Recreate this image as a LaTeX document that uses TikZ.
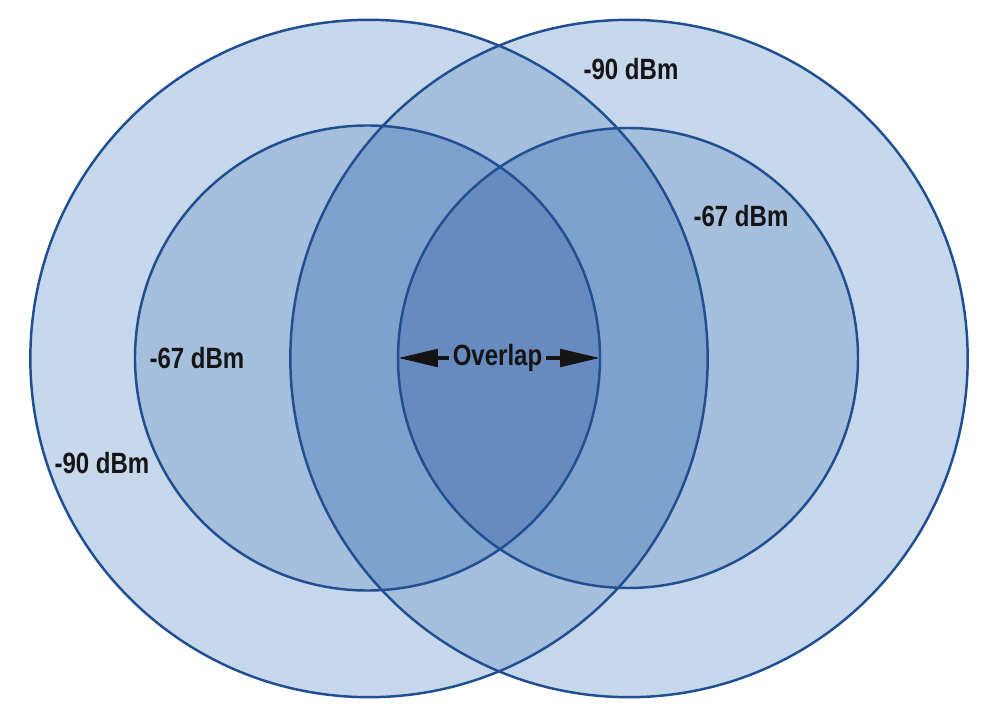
\documentclass[tikz,border=0pt]{standalone}
\usepackage{fontspec}
\usetikzlibrary{arrows.meta}
\newfontfamily\labfont[FakeStretch=0.82]{Liberation Sans}
\definecolor{cA}{HTML}{C7D8EC}
\definecolor{cB}{HTML}{A6BFDD}
\definecolor{cC}{HTML}{7FA2CC}
\definecolor{cD}{HTML}{678BBF}
\definecolor{cLine}{HTML}{1F4E92}
\definecolor{cText}{HTML}{141414}
\begin{document}
\begin{tikzpicture}[x=0.03cm,y=-0.03cm,
  ring/.style={draw=cLine, line width=2.1pt, circle, inner sep=0pt, outer sep=0pt},
  lab/.style={font=\labfont\bfseries\fontsize{25}{29}\selectfont, text=cText, inner sep=0pt},
  arr/.style={-{Triangle[length=1.2cm,width=0.52cm]}, line width=3.6pt, draw=cText}]
\useasboundingbox (0,0) rectangle (1000,711);
\fill[white] (0,0) rectangle (1000,711);
% centres
\coordinate (cOL) at (369,358.5);
\coordinate (cOR) at (629,358.5);
\coordinate (cIL) at (367.5,358);
\coordinate (cIR) at (628,358);
\def\ro{10.16cm}
\def\ril{6.975cm}
\def\rir{6.9cm}
% base fills
\fill[cA] (cOL) circle[radius=\ro];
\fill[cA] (cOR) circle[radius=\ro];
\fill[cB] (cIL) circle[radius=\ril];
\fill[cB] (cIR) circle[radius=\rir];
% outer overlap
\begin{scope}
  \clip (cOL) circle[radius=\ro];
  \fill[cB] (cOR) circle[radius=\ro];
  \fill[cC] (cIR) circle[radius=\rir];
\end{scope}
\begin{scope}
  \clip (cOR) circle[radius=\ro];
  \fill[cC] (cIL) circle[radius=\ril];
\end{scope}
\begin{scope}
  \clip (cIL) circle[radius=\ril];
  \fill[cD] (cIR) circle[radius=\rir];
\end{scope}
% outlines
\node[ring, minimum size=20.32cm] (oL) at (cOL) {};
\node[ring, minimum size=20.32cm] (oR) at (cOR) {};
\node[ring, minimum size=13.95cm] (iL) at (cIL) {};
\node[ring, minimum size=13.8cm] (iR) at (cIR) {};
% labels
\node[lab] (l67) at (197,358) {-67 dBm};
\node[lab] (l90) at (102,463) {-90 dBm};
\node[lab] (r90) at (631,69) {-90 dBm};
\node[lab] (r67) at (741,216) {-67 dBm};
\node[lab, inner xsep=3pt] (ov) at (497.5,358) {Overlap};
\draw[arr] (ov.west) -- (iR.west);
\draw[arr] (ov.east) -- (iL.east);
\end{tikzpicture}
\end{document}
